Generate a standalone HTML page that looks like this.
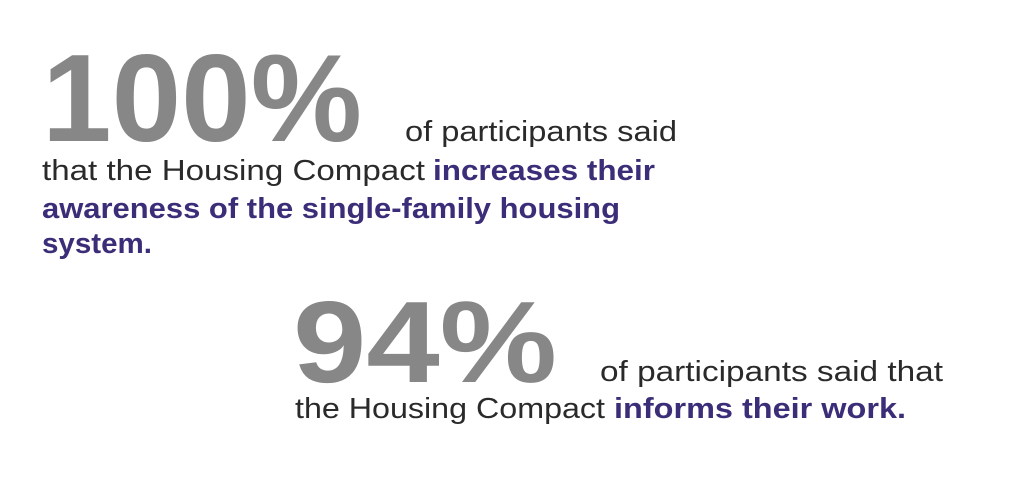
<!DOCTYPE html>
<html><head><meta charset="utf-8"><style>
html,body{margin:0;padding:0;background:#fff;width:1024px;height:483px;overflow:hidden}
svg{display:block}
.big{font-family:"Liberation Sans",sans-serif;font-weight:bold;fill:#878787}
.t{font-family:"Liberation Sans",sans-serif;font-size:29px;fill:#2a2a2a}
.b{font-family:"Liberation Sans",sans-serif;font-size:29px;font-weight:bold;fill:#3b2d78}
</style></head><body>
<svg width="1024" height="483" viewBox="0 0 1024 483">
<text class="big" x="42" y="141" font-size="124" textLength="320" lengthAdjust="spacingAndGlyphs">100%</text>
<text class="t" x="405" y="141" textLength="272" lengthAdjust="spacingAndGlyphs">of participants said</text>
<text class="t" x="42" y="180" textLength="383" lengthAdjust="spacingAndGlyphs">that the Housing Compact</text>
<text class="b" x="433" y="180" textLength="222" lengthAdjust="spacingAndGlyphs">increases their</text>
<text class="b" x="42" y="218" textLength="578" lengthAdjust="spacingAndGlyphs">awareness of the single-family housing</text>
<text class="b" x="42" y="253" textLength="110" lengthAdjust="spacingAndGlyphs">system.</text>
<text class="big" x="293" y="382" font-size="116" textLength="264" lengthAdjust="spacingAndGlyphs">94%</text>
<text class="t" x="600" y="381" textLength="343" lengthAdjust="spacingAndGlyphs">of participants said that</text>
<text class="t" x="295" y="418" textLength="310" lengthAdjust="spacingAndGlyphs">the Housing Compact</text>
<text class="b" x="614" y="418" textLength="292" lengthAdjust="spacingAndGlyphs">informs their work.</text>
</svg>
</body></html>
